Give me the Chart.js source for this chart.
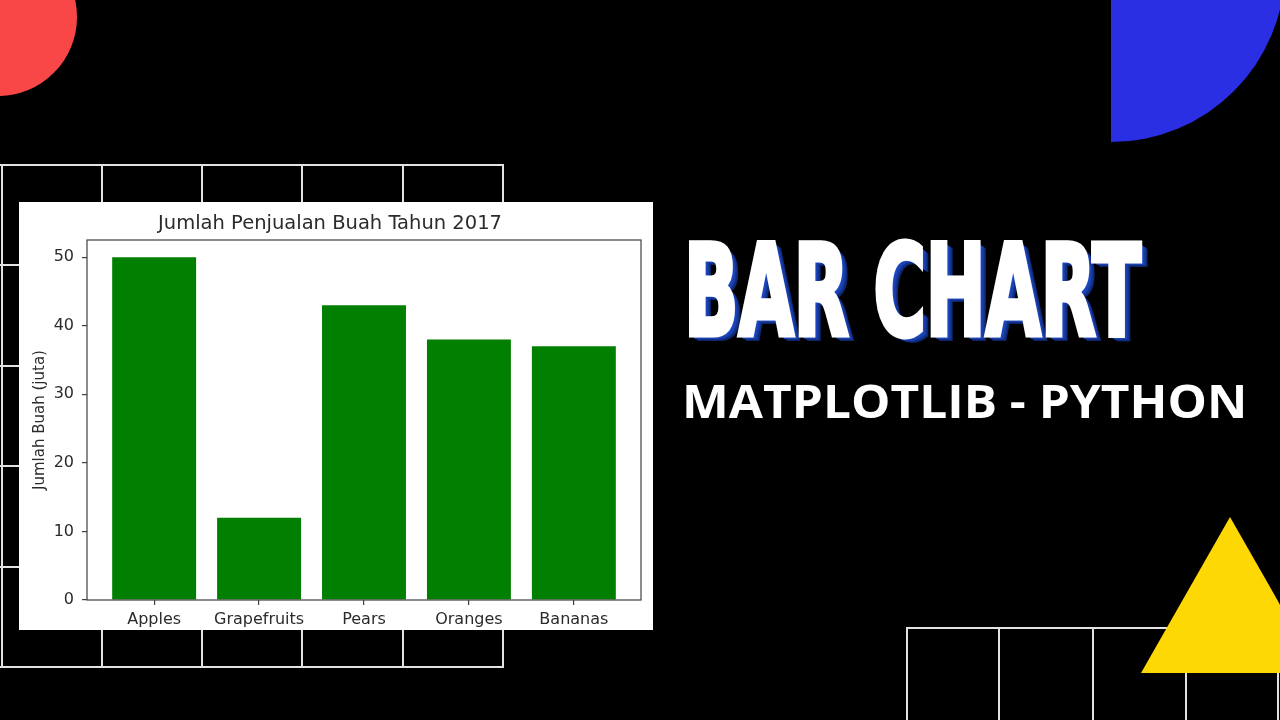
<!DOCTYPE html>
<html>
<head>
<meta charset="utf-8">
<script src="https://cdn.jsdelivr.net/npm/chart.js@4.4.0/dist/chart.umd.min.js"></script>
<style>
  html, body { margin: 0; padding: 0; background: #000; }
  #stage { position: relative; width: 1280px; height: 720px; overflow: hidden; background: #000; }
  .line { position: absolute; background: #e2e2e2; }
  #red { position: absolute; left: -81px; top: -62px; width: 158px; height: 158px; border-radius: 50%; background: #f94747; }
  #blue { position: absolute; left: 1111px; top: 0; width: 169px; height: 142px; overflow: hidden; }
  #blue div { position: absolute; left: -174px; top: -206px; width: 348px; height: 348px; border-radius: 50%; background: #2b2fe3; }
  #tri { position: absolute; left: 1141px; top: 517px; width: 178px; height: 156px; background: #fdd805; clip-path: polygon(50% 0, 100% 100%, 0 100%); }
  #panel { position: absolute; left: 19px; top: 202px; width: 634px; height: 428px; background: #fff; }
  .big { position: absolute; white-space: nowrap; color: #fff; transform-origin: 0 0; line-height: 0; }
</style>
</head>
<body>
<div id="stage">
  <div id="red"></div>
  <div id="blue"><div></div></div>
  <div id="grids"></div>
  <div id="tri"></div>
  <div id="panel"><canvas></canvas></div>
  <div id="headline" class="big"></div>
  <div id="subline" class="big"></div>
</div>
<script>
const categories = ["Apples", "Grapefruits", "Pears", "Oranges", "Bananas"];
const sales = [50, 12, 43, 38, 37];
const yTicks = [0, 10, 20, 30, 40, 50];
const chartTitle = "Jumlah Penjualan Buah Tahun 2017";
const yLabel = "Jumlah Buah (juta)";

const ink = "#2b2b2b";
const spine = "#404040";

// decorative white grids behind the panel and in the bottom right
const grids = document.getElementById("grids");
const line = (x, y, w, h) => {
  const d = document.createElement("div");
  d.className = "line";
  Object.assign(d.style, { left: x + "px", top: y + "px", width: w + "px", height: h + "px" });
  grids.appendChild(d);
};
[1, 101, 201, 301, 402, 502].forEach((x) => line(x, 164, 2, 503));
[164, 264, 365, 465, 566, 666].forEach((y) => line(0, y, 504, 2));
[906, 998, 1092, 1185, 1277].forEach((x) => line(x, 627, 2, 100));
line(906, 627, 374, 2);

// headline text, fitted to the box it fills in the picture
const place = (id, text, family, weight, box, stroke, shadow) => {
  const el = document.getElementById(id);
  const ctx = document.createElement("canvas").getContext("2d");
  const fontAt = (s) => `${weight} ${s}px ${family}`;
  ctx.font = fontAt(100);
  let m = ctx.measureText(text);
  const size = (100 * (box.bottom - box.top - stroke)) / m.actualBoundingBoxAscent;
  ctx.font = fontAt(size);
  m = ctx.measureText(text);
  const w = m.actualBoundingBoxLeft + m.actualBoundingBoxRight;
  const k = (box.right - box.left) / (w + stroke);
  const baseline = box.bottom - stroke / 2;
  el.textContent = text;
  el.style.font = fontAt(size);
  el.style.lineHeight = "0";
  el.style.top = baseline - (m.fontBoundingBoxAscent - m.fontBoundingBoxDescent) / 2 + "px";
  el.style.left = box.left + (m.actualBoundingBoxLeft + stroke / 2) * k + "px";
  el.style.transform = `scaleX(${k})`;
  if (stroke) el.style.webkitTextStroke = `${stroke}px #fff`;
  if (shadow) {
    el.style.textShadow = shadow
      .map(([dx, dy, c]) => `${dx / k}px ${dy}px 0 ${c}`)
      .join(", ");
  }
};

place("headline", "BAR CHART", '"DejaVu Sans Condensed", "DejaVu Sans"', "bold",
  { left: 689, top: 237, right: 1143, bottom: 337 }, 5,
  [[1, 1, "#1e4cc8"], [2, 2, "#1e4cc8"], [3, 3, "#1c46bb"], [4, 3.5, "#1a40ad"],
   [5, 4, "#17389c"], [6, 5, "#122f84"], [7, 6, "#0d2468"]]);
place("subline", "MATPLOTLIB - PYTHON", '"Open Sans"', "bold",
  { left: 686, top: 384, right: 1243, bottom: 418 }, 0, null);

const frame = {
  id: "frame",
  afterDatasetsDraw(c) {
    const { left, top, width, height } = c.chartArea;
    const ctx = c.ctx;
    ctx.save();
    ctx.strokeStyle = spine;
    ctx.lineWidth = 1.2;
    ctx.strokeRect(left, top, width, height);
    ctx.restore();
  },
};

Chart.defaults.font.family = '"DejaVu Sans", sans-serif';

new Chart(document.querySelector("#panel canvas").getContext("2d"), {
  type: "bar",
  data: {
    datasets: [
      {
        data: sales.map((v, i) => ({ x: i, y: v })),
        backgroundColor: "#007f00",
        barPercentage: 0.8,
        categoryPercentage: 1,
      },
    ],
  },
  options: {
    animation: false,
    responsive: true,
    maintainAspectRatio: false,
    layout: { padding: { left: 0, right: 12, top: 0, bottom: 0 } },
    plugins: {
      legend: { display: false },
      tooltip: { enabled: false },
      title: {
        display: true,
        text: chartTitle,
        color: ink,
        font: { size: 19.5, weight: "normal" },
        padding: { top: 10, bottom: 4.6 },
      },
    },
    scales: {
      x: {
        type: "linear",
        min: -0.64,
        max: 4.64,
        offset: false,
        afterBuildTicks: (axis) => {
          axis.ticks = categories.map((_, i) => ({ value: i }));
        },
        afterFit: (axis) => {
          axis.height = 30;
        },
        grid: { drawOnChartArea: false, offset: false, tickLength: 5, color: spine, lineWidth: 1.2 },
        border: { display: false },
        ticks: {
          callback: (v) => categories[v],
          color: ink,
          font: { size: 16 },
          padding: 5,
          maxRotation: 0,
          autoSkip: false,
        },
      },
      y: {
        min: 0,
        max: 52.5,
        afterBuildTicks: (axis) => {
          axis.ticks = yTicks.map((value) => ({ value }));
        },
        afterFit: (axis) => {
          axis.width = 68;
        },
        grid: { drawOnChartArea: false, tickLength: 5, color: spine, lineWidth: 1.2 },
        border: { display: false },
        ticks: { color: ink, font: { size: 16 }, padding: 8 },
        title: {
          display: true,
          text: yLabel,
          color: ink,
          font: { size: 15 },
          padding: { top: 12, bottom: 0 },
        },
      },
    },
  },
  plugins: [frame],
});
</script>
</body>
</html>
